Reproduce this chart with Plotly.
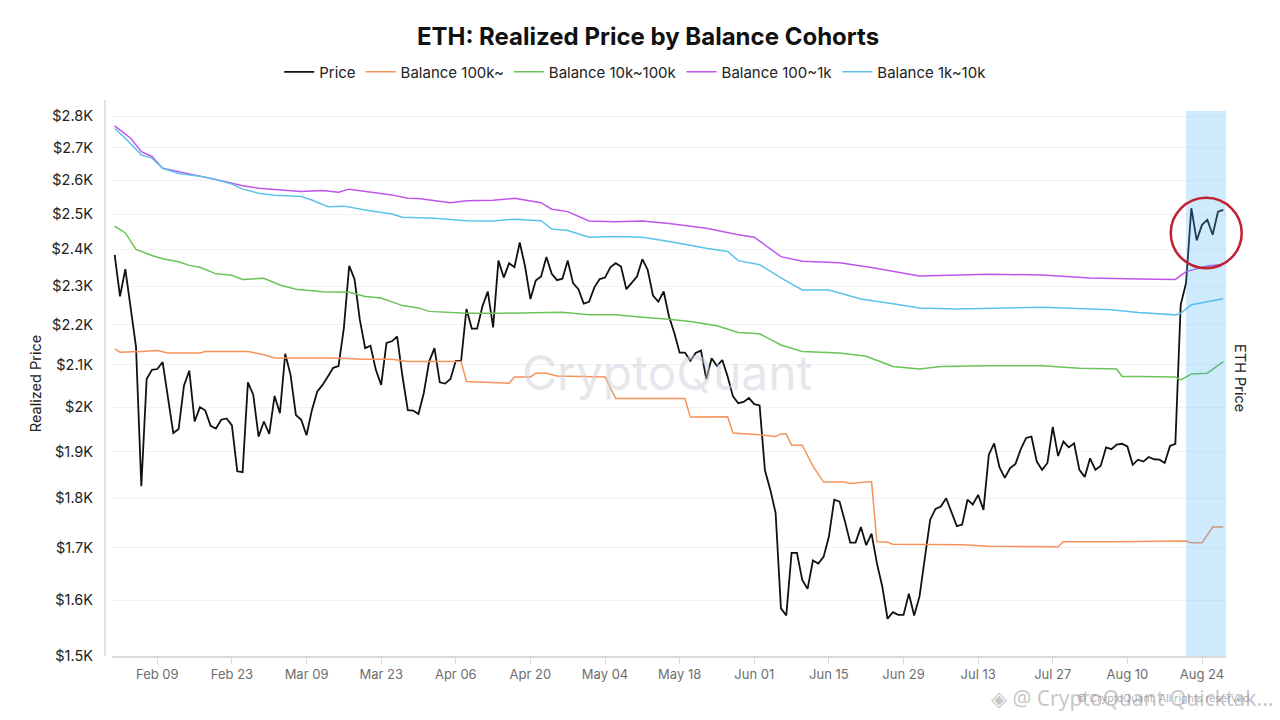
import pandas as pd
import plotly.graph_objects as go

# daily ETH price, Feb 01 -> Aug 28
price = [2385, 2273, 2346, 2243, 2145, 1825, 2066, 2088, 2090, 2107,
         2025, 1941, 1950, 2050, 2086, 1967, 2000, 1992, 1957, 1951,
         1971, 1974, 1958, 1857, 1855, 2058, 2029, 1933, 1967, 1939,
         2026, 1986, 2127, 2076, 1982, 1971, 1936, 1993, 2036, 2052,
         2072, 2093, 2097, 2191, 2355, 2319, 2212, 2141, 2147, 2088,
         2052, 2154, 2158, 2170, 2072,
         1993, 1992, 1984, 2033, 2108, 2141, 2058, 2055, 2066, 2110,
         2110, 2240, 2190, 2190, 2247, 2286, 2193, 2369, 2323, 2362,
         2351, 2419, 2353, 2266, 2315, 2326, 2379, 2333, 2316, 2320,
         2369, 2308, 2292, 2254, 2259, 2297, 2319, 2323, 2351, 2362,
         2353, 2292, 2308, 2326, 2373, 2344, 2275, 2259, 2286, 2221,
         2179, 2130, 2130,
         2110, 2129, 2135, 2066, 2116, 2097, 2112, 2072, 2025, 2009,
         2012, 2021, 2007, 2004, 1859, 1818, 1770, 1585, 1572, 1690,
         1690, 1638, 1621, 1675, 1669, 1682, 1722, 1797, 1793, 1753,
         1710, 1710, 1741, 1705, 1728, 1670, 1626, 1566, 1578, 1573,
         1573, 1612, 1572, 1607, 1683, 1756, 1778, 1783, 1800, 1770,
         1743, 1746,
         1797, 1787, 1807, 1776, 1893, 1918, 1866, 1843, 1864, 1873,
         1905, 1930, 1933, 1878, 1860, 1875, 1955, 1890, 1922, 1909,
         1918, 1860, 1845, 1885, 1860, 1869, 1909, 1905, 1915, 1917,
         1911, 1871, 1882, 1878, 1888, 1883, 1882, 1875, 1912, 1917,
         2251, 2308, 2517, 2425, 2469, 2483, 2441, 2507, 2512]
price_dates = pd.date_range("2025-02-01", periods=len(price), freq="D")

# Balance 100k~
orange_dates = ["2025-02-01", "2025-02-02", "2025-02-06", "2025-02-09", "2025-02-11", "2025-02-17",
                "2025-02-18", "2025-02-26", "2025-03-01", "2025-03-03", "2025-03-14", "2025-03-20",
                "2025-03-25", "2025-03-28", "2025-04-07", "2025-04-08", "2025-04-16", "2025-04-17",
                "2025-04-20", "2025-04-21", "2025-04-23", "2025-04-25", "2025-05-04", "2025-05-06",
                "2025-05-19", "2025-05-20", "2025-05-27", "2025-05-28", "2025-06-02", "2025-06-05",
                "2025-06-06", "2025-06-07", "2025-06-08", "2025-06-10", "2025-06-12", "2025-06-14",
                "2025-06-18", "2025-06-19", "2025-06-23", "2025-06-24", "2025-06-26", "2025-06-27",
                "2025-07-10", "2025-07-15", "2025-07-28", "2025-07-29", "2025-08-07", "2025-08-19",
                "2025-08-21", "2025-08-22", "2025-08-24", "2025-08-26", "2025-08-28"]
orange_vals = [2139, 2131, 2133, 2135, 2129, 2129, 2133, 2133, 2125, 2117, 2117, 2114,
               2114, 2108, 2108, 2060, 2056, 2071, 2071, 2080, 2080, 2073, 2071, 2020,
               2020, 1977, 1978, 1941, 1937, 1933, 1939, 1939, 1914, 1914, 1868, 1834,
               1834, 1831, 1835, 1712, 1711, 1707, 1706, 1703, 1702, 1712, 1712, 1713,
               1713, 1710, 1710, 1741, 1741]

# Balance 10k~100k
green_dates = ["2025-02-01", "2025-02-03", "2025-02-05", "2025-02-08", "2025-02-10", "2025-02-13",
               "2025-02-15", "2025-02-17", "2025-02-20", "2025-02-23", "2025-02-25", "2025-03-01",
               "2025-03-04", "2025-03-07", "2025-03-12", "2025-03-17", "2025-03-20", "2025-03-23",
               "2025-03-27", "2025-03-30", "2025-04-01", "2025-04-08", "2025-04-14", "2025-04-26",
               "2025-05-01", "2025-05-06", "2025-05-11", "2025-05-16", "2025-05-20", "2025-05-25",
               "2025-05-29", "2025-06-02", "2025-06-06", "2025-06-10", "2025-06-17", "2025-06-22",
               "2025-06-27", "2025-07-02", "2025-07-06", "2025-07-15", "2025-07-25", "2025-08-01",
               "2025-08-08", "2025-08-09", "2025-08-12", "2025-08-19", "2025-08-20", "2025-08-22",
               "2025-08-25", "2025-08-26", "2025-08-28"]
green_vals = [2465, 2446, 2400, 2383, 2374, 2366, 2356, 2351, 2333, 2329, 2318, 2321,
              2303, 2292, 2285, 2284, 2273, 2269, 2249, 2243, 2234, 2229, 2229, 2232,
              2225, 2225, 2219, 2214, 2208, 2197, 2180, 2177, 2149, 2133, 2129, 2121,
              2096, 2090, 2096, 2098, 2098, 2092, 2090, 2072, 2072, 2071, 2064, 2078,
              2080, 2090, 2108]

# Balance 100~1k
purple_dates = ["2025-02-01", "2025-02-04", "2025-02-06", "2025-02-08", "2025-02-10", "2025-02-13",
                "2025-02-17", "2025-02-20", "2025-02-23", "2025-02-25", "2025-02-28", "2025-03-05",
                "2025-03-08", "2025-03-12", "2025-03-15", "2025-03-17", "2025-03-20", "2025-03-25",
                "2025-03-28", "2025-03-30", "2025-04-05", "2025-04-08", "2025-04-13", "2025-04-17",
                "2025-04-22", "2025-04-24", "2025-04-27", "2025-05-01", "2025-05-06", "2025-05-11",
                "2025-05-16", "2025-05-23", "2025-05-29", "2025-06-01", "2025-06-06", "2025-06-10",
                "2025-06-17", "2025-06-23", "2025-07-02", "2025-07-09", "2025-07-15", "2025-07-25",
                "2025-08-03", "2025-08-12", "2025-08-19", "2025-08-21", "2025-08-25", "2025-08-28"]
purple_vals = [2768, 2729, 2687, 2672, 2636, 2625, 2612, 2602, 2591, 2583, 2576, 2571,
               2566, 2569, 2564, 2573, 2566, 2556, 2546, 2545, 2533, 2539, 2540, 2546,
               2533, 2514, 2507, 2480, 2478, 2480, 2473, 2459, 2441, 2434, 2380, 2367,
               2363, 2350, 2327, 2330, 2332, 2330, 2322, 2319, 2318, 2339, 2354, 2359]

# Balance 1k~10k
blue_dates = ["2025-02-01", "2025-02-03", "2025-02-06", "2025-02-08", "2025-02-10", "2025-02-13",
              "2025-02-17", "2025-02-20", "2025-02-23", "2025-02-25", "2025-02-28", "2025-03-03",
              "2025-03-08", "2025-03-10", "2025-03-13", "2025-03-16", "2025-03-20", "2025-03-25",
              "2025-03-27", "2025-03-30", "2025-04-02", "2025-04-08", "2025-04-13", "2025-04-17",
              "2025-04-22", "2025-04-24", "2025-04-27", "2025-05-01", "2025-05-06", "2025-05-11",
              "2025-05-16", "2025-05-23", "2025-05-27", "2025-05-29", "2025-06-02", "2025-06-06",
              "2025-06-10", "2025-06-15", "2025-06-21", "2025-06-27", "2025-07-02", "2025-07-09",
              "2025-07-25", "2025-08-07", "2025-08-12", "2025-08-19", "2025-08-20", "2025-08-22",
              "2025-08-28"]
blue_vals = [2760, 2729, 2677, 2667, 2636, 2620, 2612, 2602, 2588, 2573, 2561, 2555,
             2551, 2541, 2521, 2523, 2512, 2500, 2491, 2490, 2488, 2481, 2480, 2485,
             2481, 2457, 2453, 2434, 2436, 2434, 2422, 2403, 2394, 2369, 2358, 2322,
             2290, 2290, 2266, 2254, 2243, 2240, 2245, 2238, 2231, 2225, 2229, 2251,
             2267]

y_ticks = [1500, 1600, 1700, 1800, 1900, 2000, 2100, 2200, 2300, 2400, 2500, 2600, 2700, 2800]
y_labels = ["$1.5K", "$1.6K", "$1.7K", "$1.8K", "$1.9K", "$2K", "$2.1K", "$2.2K",
            "$2.3K", "$2.4K", "$2.5K", "$2.6K", "$2.7K", "$2.8K"]

FONT = "Inter"

fig = go.Figure()
fig.add_trace(go.Scatter(x=price_dates, y=price, name="Price", mode="lines",
                         line=dict(color="#111111", width=1.8)))
fig.add_trace(go.Scatter(x=orange_dates, y=orange_vals, name="Balance 100k~", mode="lines",
                         line=dict(color="#F5935A", width=1.5)))
fig.add_trace(go.Scatter(x=green_dates, y=green_vals, name="Balance 10k~100k", mode="lines",
                         line=dict(color="#6CC25A", width=1.5)))
fig.add_trace(go.Scatter(x=purple_dates, y=purple_vals, name="Balance 100~1k", mode="lines",
                         line=dict(color="#BF55EC", width=1.5)))
fig.add_trace(go.Scatter(x=blue_dates, y=blue_vals, name="Balance 1k~10k", mode="lines",
                         line=dict(color="#5BC2EA", width=1.5)))

# highlighted last week
fig.add_shape(type="rect", xref="x", yref="paper", x0="2025-08-21", x1="2025-08-28 12:00",
              y0=0, y1=1, fillcolor="rgb(70,180,245)", opacity=0.27, line_width=0, layer="above")
# red circle round the breakout
fig.add_shape(type="circle", xref="paper", yref="paper", x0=0.9504, x1=1.0141, y0=0.7114, y1=0.8409,
              line=dict(color="#C0202F", width=2.5))
# left axis line, set off from the plot
fig.add_shape(type="line", xref="paper", yref="paper", x0=-0.0063, x1=-0.0063, y0=0, y1=1.02,
              line=dict(color="#d9d9de", width=1.5))

fig.add_annotation(text="CryptoQuant", xref="paper", yref="paper", x=0.498, y=0.521,
                   showarrow=False, font=dict(family=FONT, size=48, color="rgba(205,205,218,0.5)"))
fig.add_annotation(text="ETH Price", xref="paper", yref="paper", x=1.0134, y=0.51, textangle=90,
                   xanchor="center", yanchor="middle", showarrow=False,
                   font=dict(family=FONT, size=14.5, color="#222222"))
fig.add_annotation(text="◈ @ CryptoQuant Quicktak...", xref="paper", yref="paper", x=1.044, y=-0.077,
                   xanchor="right", yanchor="middle", showarrow=False,
                   font=dict(family="Noto Sans", size=21, color="rgba(150,150,150,0.55)"))
fig.add_annotation(text="© CryptoQuant. All rights reserved.", xref="paper", yref="paper", x=0.945,
                   y=-0.078, xanchor="center", yanchor="middle", showarrow=False,
                   font=dict(family=FONT, size=10.5, color="rgba(120,120,120,0.6)"))

# page body adds an 8px offset, margins compensate for it
fig.update_layout(
    width=1280, height=720,
    paper_bgcolor="white", plot_bgcolor="white",
    margin=dict(l=104, r=62, t=103, b=72),
    font=dict(family=FONT, color="#222222"),
    title=dict(text="<b>ETH: Realized Price by Balance Cohorts</b>", x=0.5, xref="container",
               y=0.96, yref="container", xanchor="center", yanchor="middle",
               font=dict(family=FONT, size=24, color="#111111")),
    legend=dict(orientation="h", xref="container", yref="container", x=0.49, y=0.911,
                xanchor="center", yanchor="middle", font=dict(size=15, color="#222222"),
                itemwidth=30),
    showlegend=True,
    xaxis=dict(type="date", range=["2025-01-31 12:00", "2025-08-28 12:00"],
               tick0="2025-02-09", dtick=14 * 86400000, tickformat="%b %d",
               showgrid=False, showline=True, linecolor="#d9d9de", linewidth=1.5,
               ticks="outside", ticklen=6, tickcolor="#d9d9de",
               tickfont=dict(size=13, color="#6e6e6e"), zeroline=False),
    yaxis=dict(type="log", range=[3.17609, 3.44967], tickvals=y_ticks, ticktext=y_labels,
               showgrid=True, gridcolor="#f2f2f2", gridwidth=1, zeroline=False,
               tickfont=dict(size=14.5, color="#222222"), ticklabelstandoff=18,
               title=dict(text="Realized Price", font=dict(size=14.5, color="#222222"), standoff=6)),
)

fig.write_html("out.html")
